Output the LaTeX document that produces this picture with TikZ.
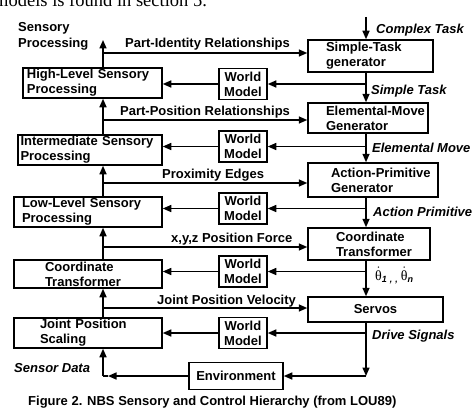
\documentclass[tikz,border=0pt]{standalone}
\usepackage{fontspec}
\setmainfont{Liberation Sans}
\newfontfamily\serifpaper{Liberation Serif}
\usetikzlibrary{arrows.meta}
\newcommand\twol[2]{\mbox{#1}\\\mbox{#2}}
\newcommand\thsub[1]{\raisebox{-2.5pt}{\sffamily\fontspec{Liberation Sans}\bfseries\itshape\fontsize{9}{10}\selectfont #1}}
\tikzset{
  bfont/.style={font=\bfseries\fontsize{13}{15}\selectfont},
  box/.style={draw, line width=1.5pt, inner ysep=0pt, align=left, bfont},
  cbox/.style={box, align=center, inner xsep=0pt},
  wm/.style={cbox, text width=48pt, minimum height=31pt},
  arr/.style={line width=1.5pt, -{Triangle[length=8.5pt,width=7pt]}},
  ln/.style={line width=1.5pt},
  lab/.style={bfont, inner sep=0pt, anchor=base west},
  ilab/.style={font=\bfseries\itshape\fontsize{13}{15}\selectfont, inner sep=0pt, anchor=base west},
}
\begin{document}
\begin{tikzpicture}[x=1pt,y=-1pt]
\fill[white] (0,0) rectangle (474,412);
\useasboundingbox (0,0) rectangle (474,412);

% clipped line of the page above the figure
\node[anchor=base west, inner sep=0pt, font=\serifpaper\fontsize{18.5}{20}\selectfont] (toptext) at (-6,6.5) {models is found in section 5.};

% left column
\node[box, text width=131pt, inner xsep=4pt, minimum height=30pt] (High) at (92.5,83) {\twol{High-Level Sensory}{Processing}};
\node[box, text width=139pt, inner xsep=2.5pt, minimum height=30pt] (Inter) at (90,150) {\twol{Intermediate Sensory}{Processing}};
\node[box, text width=132pt, inner xsep=8pt, minimum height=30pt] (LL) at (88,212) {\twol{Low-Level Sensory}{Processing}};
\node[box, text width=86pt, inner xsep=31pt, minimum height=28pt] (CTL) at (88,274) {\twol{Coordinate}{Transformer}};
\node[box, text width=96pt, inner xsep=26pt, minimum height=30pt] (JPS) at (88,333) {\twol{Joint Position}{Scaling}};

% world models
\node[wm] (WM1) at (243,84) {World\\Model};
\node[wm] (WM2) at (243,146.5) {World\\Model};
\node[wm] (WM3) at (243,208.5) {World\\Model};
\node[wm] (WM4) at (243,271.5) {World\\Model};
\node[wm] (WM5) at (243,333) {World\\Model};

% right column
\node[box, text width=89pt, inner xsep=18pt, minimum height=32pt] (ST) at (370.5,56) {\twol{Simple-Task}{generator}};
\node[box, text width=84pt, inner xsep=18pt, minimum height=30pt] (EM) at (368,118) {\twol{Elemental-Move}{Generator}};
\node[box, text width=84pt, inner xsep=23pt, minimum height=34pt] (AP) at (373,180) {\twol{Action-Primitive}{Generator}};
\node[box, text width=66pt, inner xsep=28pt, minimum height=32pt] (CTR) at (369,244) {\twol{Coordinate}{Transformer}};
\node[cbox, text width=135pt, minimum height=25pt] (Servos) at (375.5,309.5) {Servos};
\node[cbox, text width=94pt, minimum height=27pt] (Env) at (236,376) {Environment};

% helper coordinates
\coordinate (V) at (103,0);
\coordinate (R) at (366,0);
\coordinate (Vtop) at (103,40);
\coordinate (Vbot) at (103,376);
\coordinate (Rtop) at (366,17);
\coordinate (Rbot) at (366,376);
\coordinate (J1) at (103,53);
\coordinate (J2) at (103,120);
\coordinate (J3) at (103,183);
\coordinate (J4) at (103,247);
\coordinate (J5) at (103,308);

% left vertical chain
\draw[arr] (High.north -| V) -- (Vtop);
\draw[arr] (Inter.north -| V) -- (High.south -| V);
\draw[arr] (LL.north -| V) -- (Inter.south -| V);
\draw[arr] (CTL.north -| V) -- (LL.south -| V);
\draw[arr] (JPS.north -| V) -- (CTL.south -| V);
\draw[arr] (Vbot) -- (JPS.south -| V);
\draw[arr] (Env.west) -- ([xshift=5pt]Vbot);
\draw[ln] ([xshift=5pt]Vbot) -- (Vbot);

% sensory to task horizontal links
\draw[arr] (J1) -- (J1 -| ST.west);
\draw[arr] (J2) -- (J2 -| EM.west);
\draw[arr] (J3) -- (J3 -| AP.west);
\draw[arr] (J4) -- (J4 -| CTR.west);
\draw[arr] (J5) -- (J5 -| Servos.west);

% right vertical chain
\draw[arr] (Rtop) -- (ST.north -| R);
\draw[arr] (ST.south -| R) -- (EM.north -| R);
\draw[arr] (EM.south -| R) -- (AP.north -| R);
\draw[arr] (AP.south -| R) -- (CTR.north -| R);
\draw[arr] (CTR.south -| R) -- (Servos.north -| R);
\draw[arr] (Servos.south -| R) -- (Rbot);
\draw[arr] (Rbot) -- (Env.east);

% world model links
\draw[arr] (WM1.east -| R) -- (WM1.east);
\draw[arr] (WM2.east -| R) -- (WM2.east);
\draw[arr] (WM3.east -| R) -- (WM3.east);
\draw[arr] (WM4.east -| R) -- (WM4.east);
\draw[arr] (WM5.east -| R) -- (WM5.east);
\draw[arr] (WM1.west) -- (WM1.west -| High.east);
\draw[arr] (WM2.west) -- (WM2.west -| Inter.east);
\draw[arr] (WM3.west) -- (WM3.west -| LL.east);
\draw[arr] (WM4.west) -- (WM4.west -| CTL.east);
\draw[arr] (WM5.west) -- (WM5.west -| JPS.east);

% labels
\node[lab] (l1) at (18,32) {Sensory};
\node[lab] (l2) at (18,48) {Processing};
\node[lab] (t1) at (125,48) {Part-Identity Relationships};
\node[lab] (t2) at (120,115) {Part-Position Relationships};
\node[lab] (t3) at (162,178) {Proximity Edges};
\node[lab] (t4) at (171,242) {x,y,z Position Force};
\node[lab] (t5) at (157,304) {Joint Position Velocity};

\node[ilab] (r1) at (376,34) {Complex Task};
\node[ilab] (r2) at (371,94) {Simple Task};
\node[ilab] (r3) at (372,152) {Elemental Move};
\node[ilab] (r4) at (373,216) {Action Primitive};
\node[anchor=base west, inner sep=0pt, font=\serifpaper\fontsize{14}{16}\selectfont] (r5) at (375,280) {$\dot{\hbox{θ}}$\thsub{1}\hspace{3pt}\thsub{,}\hspace{3pt}\thsub{,}\hspace{3pt}$\dot{\hbox{θ}}$\thsub{n}};
\node[ilab] (r6) at (372,339) {Drive Signals};
\node[ilab] (sd) at (14,372) {Sensor Data};

\node[lab] (cap) at (28,405) {Figure 2. NBS Sensory and Control Hierarchy (from LOU89)};
\end{tikzpicture}
\end{document}
